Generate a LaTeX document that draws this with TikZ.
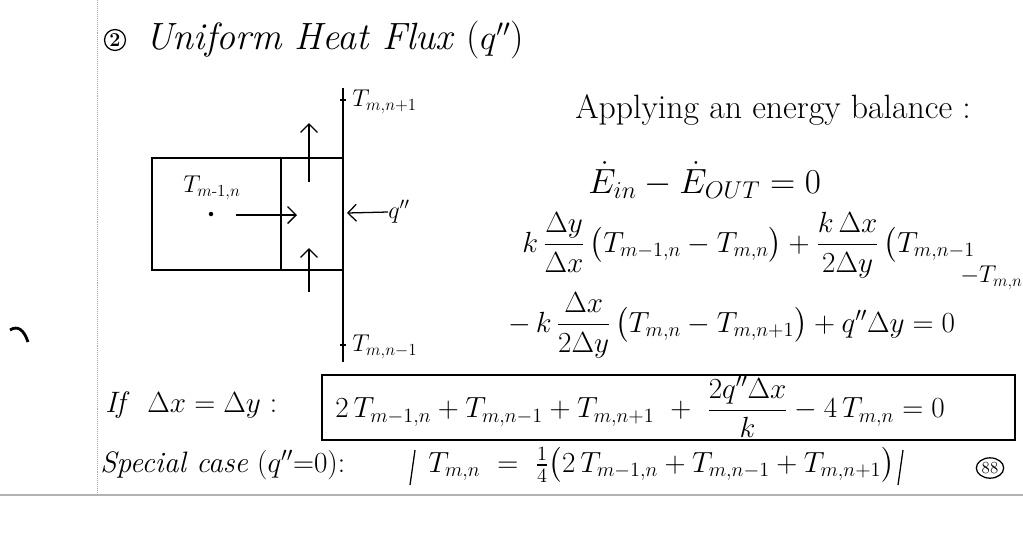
\documentclass[tikz,border=0pt]{standalone}
\usepackage{amsmath}
\usetikzlibrary{arrows.meta,shapes.geometric}
\begin{document}
\begin{tikzpicture}[x=0.025cm,y=-0.025cm,
  txt/.style={inner sep=0pt,font=\fontsize{21}{25}\selectfont},
  big/.style={inner sep=0pt,font=\fontsize{27}{31}\selectfont},
  lab/.style={inner sep=0pt,font=\fontsize{17}{20}\selectfont},
  ln/.style={line width=0.9pt},
  arr/.style={line width=0.9pt,-{Straight Barb[length=6pt]}}]
\useasboundingbox (0,0) rectangle (1023,535);
\fill[white] (0,0) rectangle (1023,535);
\draw[gray!60,line width=1.5pt] (0,495) -- (1023,495);
\draw[gray!70,densely dotted] (97,0) -- (97,495);
% title
\node[draw,circle,ln,inner sep=1pt,font=\fontsize{14}{16}\selectfont\bfseries] (c2) at (115,40) {2};
\node[big,anchor=west] (title) at (145,40) {\textit{Uniform Heat Flux} ($q''$)};
% sketch
\draw[ln] (152,158) rectangle (343,270);
\coordinate (ia) at (281,158); \coordinate (ib) at (281,270);
\draw[ln] (ia) -- (ib);
\coordinate (wt) at (343,88); \coordinate (wb) at (343,362);
\draw[ln] (wt) -- (wb);
\draw[ln] (340,100) -- (346,100); \draw[ln] (340,345) -- (346,345);
\coordinate (u1a) at (309,182); \coordinate (u1b) at (309,123);
\draw[arr] (u1a) -- (u1b);
\coordinate (u2a) at (309,292); \coordinate (u2b) at (309,248);
\draw[arr] (u2a) -- (u2b);
\coordinate (r1) at (236,215); \coordinate (r2) at (297,215);
\draw[arr] (r1) -- (r2);
\node[lab,anchor=west] (q) at (388,212) {$q''$};
\draw[arr] (q.west) -- (347,213);
\fill (211,214) circle (1.6pt);
\node[lab] (tm1) at (212,188) {$T_{m\text{-}1,n}$};
\node[lab,anchor=west] (tp) at (352,102) {$T_{m,n+1}$};
\node[lab,anchor=west] (tn) at (352,347) {$T_{m,n-1}$};
% right text
\node[inner sep=0pt,font=\fontsize{24}{28}\selectfont,anchor=west] (app) at (575,110) {Applying an energy balance :};
\node[inner sep=0pt,font=\fontsize{25}{29}\selectfont,anchor=west] (ee) at (588,180) {$\dot E_{in} - \dot E_{OUT} =0$};
\node[inner sep=0pt,font=\fontsize{20}{24}\selectfont,anchor=west] (eq1) at (522,245) {$k\,\dfrac{\Delta y}{\Delta x}\,\bigl(T_{m-1,n}-T_{m,n}\bigr)+\dfrac{k\,\Delta x}{2\Delta y}\,\bigl(T_{m,n-1}$};
\node[lab,anchor=east] (eq1b) at (1023,278) {$-T_{m,n}$};
\node[txt,anchor=west] (eq2) at (508,325) {$-\,k\,\dfrac{\Delta x}{2\Delta y}\,\bigl(T_{m,n}-T_{m,n+1}\bigr)+q''\Delta y=0$};
\node[txt,anchor=west] (if) at (105,405) {\textit{If} \ $\Delta x=\Delta y$ :};
\draw[ln] (322,375) rectangle (1015,440);
\node[inner sep=0pt,font=\fontsize{22}{26}\selectfont,anchor=west] (eq3) at (335,407) {$2\,T_{m-1,n}+T_{m,n-1}+T_{m,n+1}\ +\ \dfrac{2q''\Delta x}{k}-4\,T_{m,n}=0$};
\node[txt,anchor=west] (sp) at (100,465) {\textit{Special case} ($q''{=}0$):};
\draw[ln] (415,450) -- (410,485);
\node[txt,anchor=west] (eq4) at (428,465) {$T_{m,n}\ =\ \frac14\bigl(2\,T_{m-1,n}+T_{m,n-1}+T_{m,n+1}\bigr)$};
\draw[ln] (903,450) -- (898,485);
\node[draw,ellipse,ln,inner sep=1pt,font=\fontsize{12}{14}\selectfont] (p88) at (990,468) {88};
\draw[line width=2pt] (10,330) .. controls (18,325) and (24,330) .. (28,342);
\end{tikzpicture}
\end{document}
